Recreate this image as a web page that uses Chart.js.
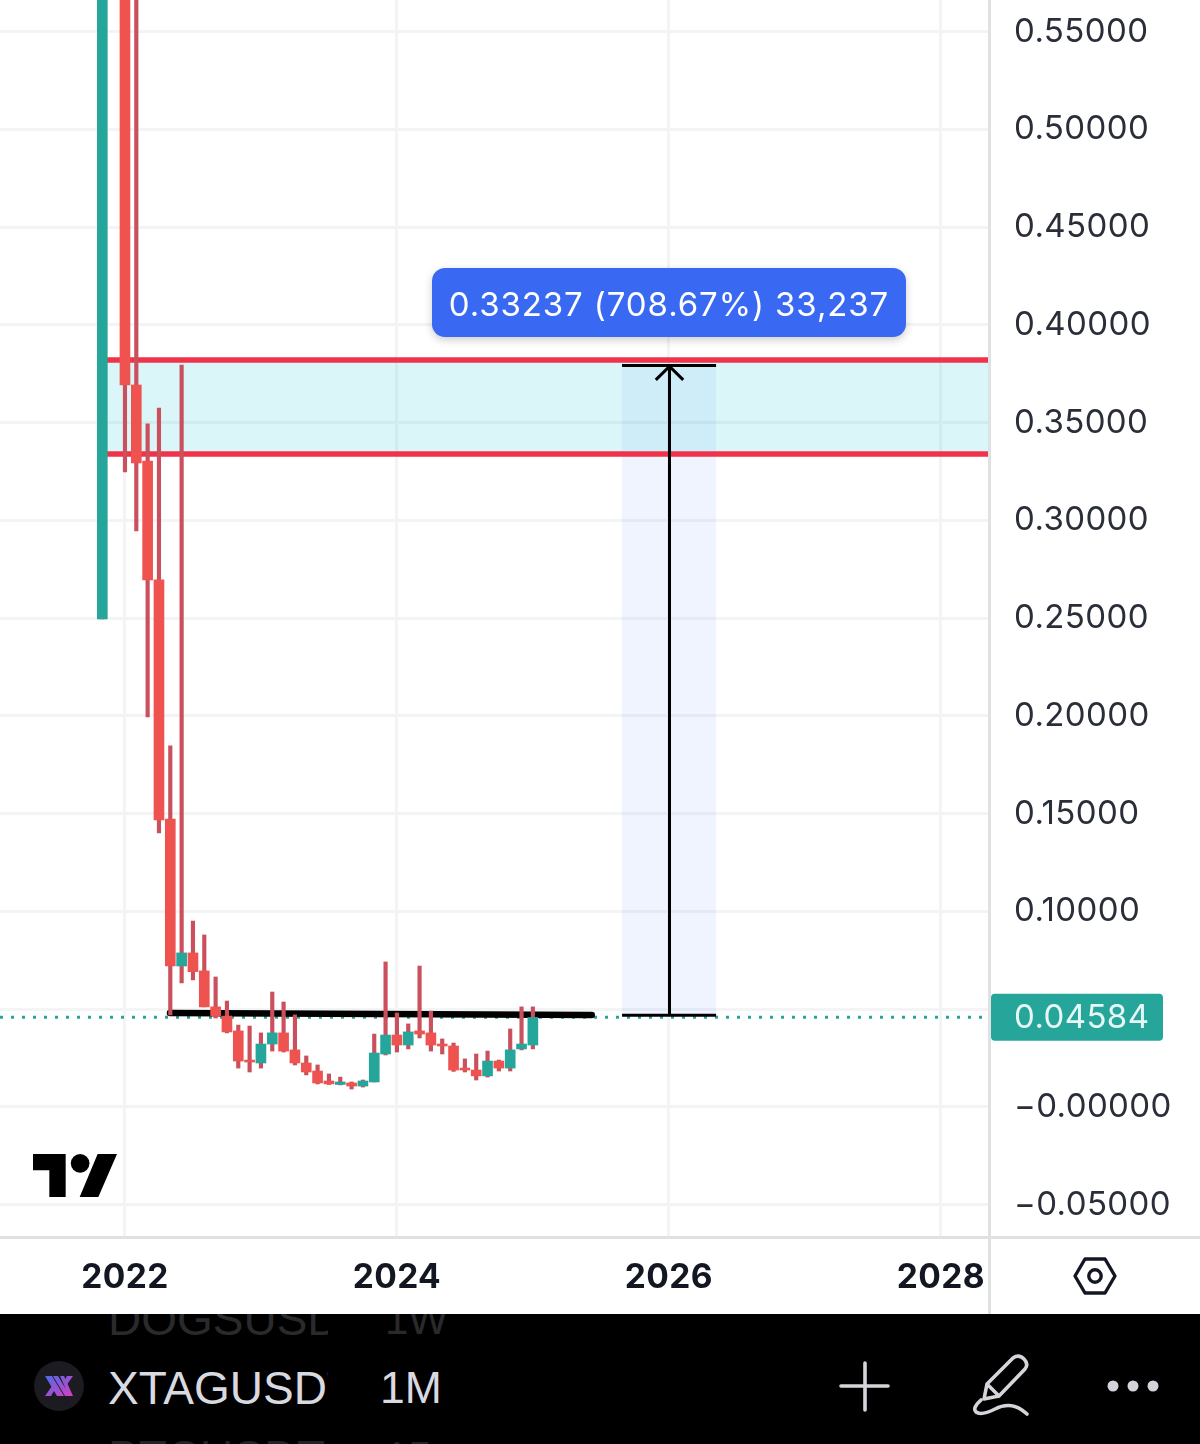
<!DOCTYPE html>
<html>
<head>
<meta charset="utf-8">
<title>XTAGUSD 1M</title>
<script src="https://cdn.jsdelivr.net/npm/chart.js@4/dist/chart.umd.min.js"></script>
<style>
  html, body { margin: 0; padding: 0; background: #fff; }
  #wrap { position: relative; width: 1200px; height: 1444px; overflow: hidden; font-family: Inter, sans-serif; }
  canvas { position: absolute; left: 0; top: 0; }
  #pill {
    position: absolute; left: 432px; top: 268px; width: 474px; height: 69px;
    background: #3968f2; border-radius: 13px; color: #fff; text-align: center;
    font-size: 33px; letter-spacing: 0.9px; line-height: 73px; box-shadow: 0 3px 8px rgba(0,0,0,.2);
  }
  #logo { position: absolute; left: 33px; top: 1154px; }
  #gear { position: absolute; left: 1070px; top: 1252px; }
  #bar { position: absolute; left: 0; top: 1314px; width: 1200px; height: 130px; background: #000; overflow: hidden; font-family: "Liberation Sans", sans-serif; }
  .sym { position: absolute; font-size: 46px; line-height: 54px; white-space: nowrap; }
  #icons { position: absolute; left: 0; top: 0; }
</style>
</head>
<body>
<div id="wrap">
  <canvas id="chart" width="1200" height="1444"></canvas>
  <div id="pill">0.33237 (708.67%) 33,237</div>
  <svg id="logo" width="84" height="43" viewBox="0 0 36 18.4"><path fill="#000" d="M14 18.4H7V7H0V0h14zM28 18.4h-8L27.7 0H36z"/><circle cx="20.2" cy="4" r="4" fill="#000"/></svg>
  <svg id="gear" width="50" height="48" viewBox="0 0 50 48" fill="none" stroke="#131722" stroke-width="3.4"><path d="M15 7h20l10 17-10 17H15L5 24z" stroke-linejoin="round"/><circle cx="25" cy="24" r="6.2"/></svg>
  <div id="bar">
    <div class="sym" style="left:108px;top:-22px;width:220px;overflow:hidden;color:#2a2a2d">DOGSUSD</div>
    <div class="sym" style="left:385px;top:-21px;color:#2a2a2d;font-size:42px">1W</div>
    <div class="sym" style="left:108px;top:47px;width:220px;overflow:hidden;color:#d9d9e0">XTAGUSDT</div>
    <div class="sym" style="left:380px;top:47px;color:#d9d9e0;font-size:44.5px">1M</div>
    <div class="sym" style="left:108px;top:116px;width:220px;overflow:hidden;color:#232325">BTCUSDT</div>
    <div class="sym" style="left:385px;top:116px;color:#232325;font-size:42px">15</div>
    <svg id="icons" width="1200" height="130" fill="none" stroke="#d4d4da" stroke-width="3.6" stroke-linecap="round" stroke-linejoin="round">
      <defs><linearGradient id="xg" x1="0" y1="0" x2="1" y2="1"><stop offset="0" stop-color="#4f6be8"/><stop offset="1" stop-color="#d63fc0"/></linearGradient></defs>
      <circle cx="59" cy="72" r="25" fill="#1b1b21" stroke="none"/>
      <g fill="url(#xg)" stroke="none" transform="translate(45,62)">
        <path d="M0 0h7l12 20h-7zM8 0h5l12 20h-5zM15 0h4l9 20h-4z"/>
        <path d="M0 20l7-10 2.5 4-3.5 6zM28 0l-7 10-2.5-4 3.5-6z"/>
      </g>
      <path d="M865 49v47M841 72h47"/>
      <path d="M984 85l3-15 26-26q6-4 11 1t1 10l-26 27zM987 70l12 12"/>
      <path d="M981 86q-9 8-5 12q5 4 19-3q17-9 32 5"/>
      <g fill="#d4d4da" stroke="none"><circle cx="1113" cy="72" r="5.5"/><circle cx="1133" cy="72" r="5.5"/><circle cx="1153" cy="72" r="5.5"/></g>
    </svg>
  </div>
</div>

<script>
// candles, x is months from Jan 2022
const candleMonths = [-2, 0, 1, 2, 3, 4, 5, 6, 7, 8, 9, 10, 11, 12, 13, 14, 15, 16, 17, 18, 19, 20, 21, 22, 23, 24, 25, 26, 27, 28, 29, 30, 31, 32, 33, 34, 35, 36];
const opens  = [.2496, .70, .3693, .3304, .2696, .1473, .0721, .0788, .0696, .0512, .0465, .0389, .0240, .0225, .0322, .0379, .0292, .0225, .0184, .0133, .0115, .0123, .0107, .0128, .0271, .0368, .0317, .0389, .0379, .0322, .0312, .0199, .0189, .0159, .0235, .0199, .0297, .0317];
const highs  = [.70, .75, .75, .3494, .3575, .1847, .3795, .0951, .0880, .0665, .0542, .0419, .0414, .0379, .0588, .0537, .0471, .0261, .0215, .0169, .0153, .0128, .0138, .0373, .0742, .0481, .0425, .0721, .0491, .0348, .0327, .0246, .0271, .0286, .0240, .0399, .0512, .0512];
const lows   = [.2496, .3248, .2946, .1995, .1402, .0471, .0634, .0650, .0512, .0455, .0379, .0199, .0179, .0199, .0286, .0281, .0215, .0164, .0118, .0115, .0113, .0092, .0102, .0128, .0266, .0281, .0297, .0353, .0286, .0271, .0182, .0179, .0138, .0153, .0184, .0184, .0292, .0297];
const closes = [.70, .3693, .3294, .2696, .1468, .0721, .0788, .0692, .0512, .0465, .0384, .0235, .0230, .0322, .0379, .0286, .0225, .0179, .0123, .0118, .0128, .0107, .0133, .0276, .0368, .0317, .0384, .0373, .0317, .0312, .0189, .0189, .0159, .0235, .0199, .0292, .0322, .0458];

const yTicks = [.55, .5, .45, .4, .35, .3, .25, .2, .15, .1, .05, 0, -.05];
const yTickLabels = ['0.55000', '0.50000', '0.45000', '0.40000', '0.35000', '0.30000', '0.25000', '0.20000', '0.15000', '0.10000', '', '\u22120.00000', '\u22120.05000'];
const xTicks = [0, 24, 48, 72];
const xTickLabels = ['2022', '2024', '2026', '2028'];

const lastPrice = 0.04584;
const lastPriceLabel = '0.04584';
const resistance = [0.3821, 0.3340];
const resistanceFrom = -1.59;
const supportX = [3.97, 41.2];
const supportY = [0.0481, 0.0471];
const measureX = [43.87, 48.06, 52.17];
const measureY = [0.0469, 0.3793];
const arrowX = [46.85, 48.06, 49.27];
const arrowY = [0.3719, 0.3788, 0.3719];

const xMin = -11.03, xMax = 76.17;
const yMin = -0.0665, yMax = 0.5662;

const UP = '#26a69a', DOWN = '#ef5350', WICK = '#c9505c';
const pts = (xs, ys) => xs.map((x, i) => ({ x, y: ys[i] }));
const lineSet = (data, color, width, extra) => Object.assign({
  type: 'line', data, borderColor: color, borderWidth: width, pointRadius: 0, tension: 0, order: 1
}, extra);
const noPadding = s => { s.paddingTop = s.paddingBottom = s.paddingLeft = s.paddingRight = 0; };

const overlays = {
  id: 'overlays',
  beforeDraw(chart) {
    chart.ctx.letterSpacing = '0.4px';
  },
  beforeDatasetsDraw(chart) {
    const { ctx, scales: { x, y }, chartArea: a } = chart;
    ctx.save();
    // zone between the two red lines
    ctx.fillStyle = 'rgba(0,188,212,0.14)';
    ctx.fillRect(x.getPixelForValue(resistanceFrom), y.getPixelForValue(resistance[0]), a.right - x.getPixelForValue(resistanceFrom), y.getPixelForValue(resistance[1]) - y.getPixelForValue(resistance[0]));
    // measure box
    ctx.fillStyle = 'rgba(41,98,255,0.07)';
    const bx = x.getPixelForValue(measureX[0]);
    ctx.fillRect(bx, y.getPixelForValue(measureY[1]), x.getPixelForValue(measureX[2]) - bx, y.getPixelForValue(measureY[0]) - y.getPixelForValue(measureY[1]));
    ctx.restore();
  },
  afterDraw(chart) {
    const { ctx, scales: { y } } = chart;
    ctx.save();
    // axis frame runs past the plot area
    ctx.fillStyle = '#e0e1e3';
    ctx.fillRect(0, 1236, 1200, 3);
    ctx.fillRect(988, 0, 3, 1314);
    // last price tag
    const py = y.getPixelForValue(lastPrice);
    ctx.fillStyle = UP;
    ctx.beginPath();
    ctx.roundRect(991, py - 23.5, 172, 47, 4);
    ctx.fill();
    ctx.fillStyle = '#e6f7f5';
    ctx.font = '33px Inter';
    ctx.textBaseline = 'middle';
    ctx.fillText(lastPriceLabel, 1014, py + 1);
    ctx.restore();
  }
};

new Chart(document.getElementById('chart').getContext('2d'), {
  type: 'bar',
  data: {
    datasets: [
      lineSet(pts([xMin, xMax], [lastPrice, lastPrice]), UP, 3, { borderDash: [3, 8], order: 7 }),
      lineSet(pts(supportX, supportY), '#000', 6.5, { borderCapStyle: 'round', order: 6 }),
      lineSet(pts([resistanceFrom, xMax], [resistance[0], resistance[0]]), '#f0334a', 5.5, { order: 4 }),
      lineSet(pts([resistanceFrom, xMax], [resistance[1], resistance[1]]), '#f0334a', 5.5, { order: 4 }),
      {
        label: 'wicks',
        data: candleMonths.map((m, i) => ({ x: m, y: [lows[i], highs[i]] })),
        backgroundColor: WICK,
        barThickness: 3.5,
        grouped: false,
        order: 3
      },
      {
        label: 'bodies',
        data: candleMonths.map((m, i) => ({ x: m, y: [opens[i], closes[i]] })),
        backgroundColor: opens.map((o, i) => (closes[i] >= o ? UP : DOWN)),
        barThickness: 10,
        grouped: false,
        order: 2
      },
      lineSet(pts([measureX[0], measureX[2]], [measureY[0], measureY[0]]), '#000', 3),
      lineSet(pts([measureX[0], measureX[2]], [measureY[1], measureY[1]]), '#000', 3),
      lineSet(pts([measureX[1], measureX[1]], measureY), '#000', 3),
      lineSet(pts(arrowX, arrowY), '#000', 3)
    ]
  },
  options: {
    responsive: false,
    animation: false,
    events: [],
    layout: { padding: 0 },
    plugins: { legend: { display: false }, tooltip: { enabled: false } },
    scales: {
      x: {
        type: 'linear', offset: false, min: xMin, max: xMax,
        afterBuildTicks: s => { s.ticks = xTicks.map(value => ({ value })); },
        afterFit: s => { s.height = 207; noPadding(s); },
        grid: { color: '#f3f4f5', lineWidth: 3, drawTicks: false, offset: false },
        border: { display: false },
        ticks: {
          autoSkip: false, maxRotation: 0, padding: 21,
          color: '#131722', font: { family: 'Inter', size: 33.5, weight: '700' },
          callback: (v, i) => xTickLabels[i]
        }
      },
      y: {
        position: 'right', min: yMin, max: yMax,
        afterBuildTicks: s => { s.ticks = yTicks.map(value => ({ value })); },
        afterFit: s => { s.width = 212; noPadding(s); },
        grid: { color: '#f3f4f5', lineWidth: 3, drawTicks: false },
        border: { display: false },
        ticks: {
          autoSkip: false, padding: 26, crossAlign: 'near',
          color: '#2a2e39', font: { family: 'Inter', size: 33 },
          callback: (v, i) => yTickLabels[i]
        }
      }
    }
  },
  plugins: [overlays]
});
</script>
</body>
</html>
